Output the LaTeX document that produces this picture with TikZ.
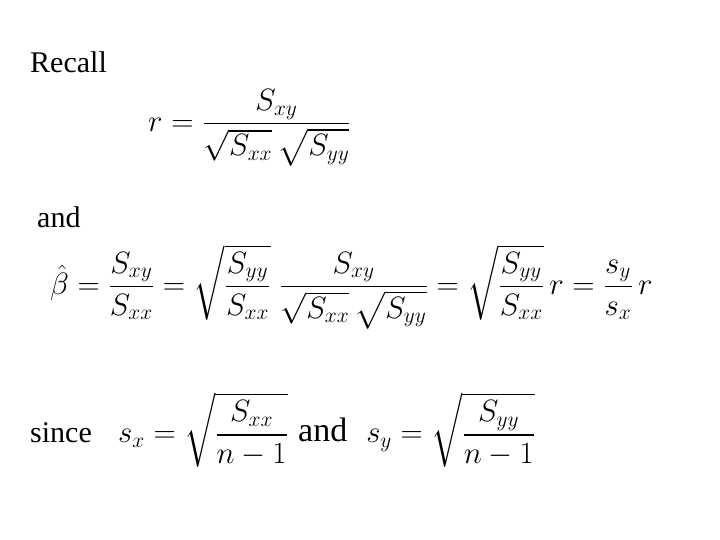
\documentclass[tikz,border=0pt]{standalone}
\usepackage{fontspec}
\usepackage{amsmath}
\setmainfont{Liberation Serif}
\begin{document}
\begin{tikzpicture}[x=1pt,y=-1pt,
  txt/.style={anchor=west,inner sep=0pt,font=\fontsize{30}{34}\selectfont},
  eq/.style={anchor=west,inner sep=0pt,font=\fontsize{26}{30}\selectfont,scale=1.24,transform shape}]
\useasboundingbox (0,0) rectangle (720,540);
\node[txt] (recall) at (30,62) {Recall};
\node[eq] (r) at (148,128) {$\displaystyle r=\frac{S_{xy}}{\sqrt{S_{xx}}\,\sqrt{S_{yy}}}$};
\node[txt] (and1) at (37,217) {and};
\node[eq] (beta) at (50,287) {$\displaystyle \hat\beta=\frac{S_{xy}}{S_{xx}}=\sqrt{\frac{S_{yy}}{S_{xx}}}\;\frac{S_{xy}}{\sqrt{S_{xx}}\,\sqrt{S_{yy}}}=\sqrt{\frac{S_{yy}}{S_{xx}}}\,r=\frac{s_y}{s_x}\,r$};
\node[txt] (since) at (30,433) {since};
\node[eq] (sx) at (118,430) {$\displaystyle s_x=\sqrt{\frac{S_{xx}}{n-1}}$};
\node[txt,font=\fontsize{34}{38}\selectfont] (and2) at (298,430) {and};
\node[eq] (sy) at (366,430) {$\displaystyle s_y=\sqrt{\frac{S_{yy}}{n-1}}$};
\end{tikzpicture}
\end{document}
